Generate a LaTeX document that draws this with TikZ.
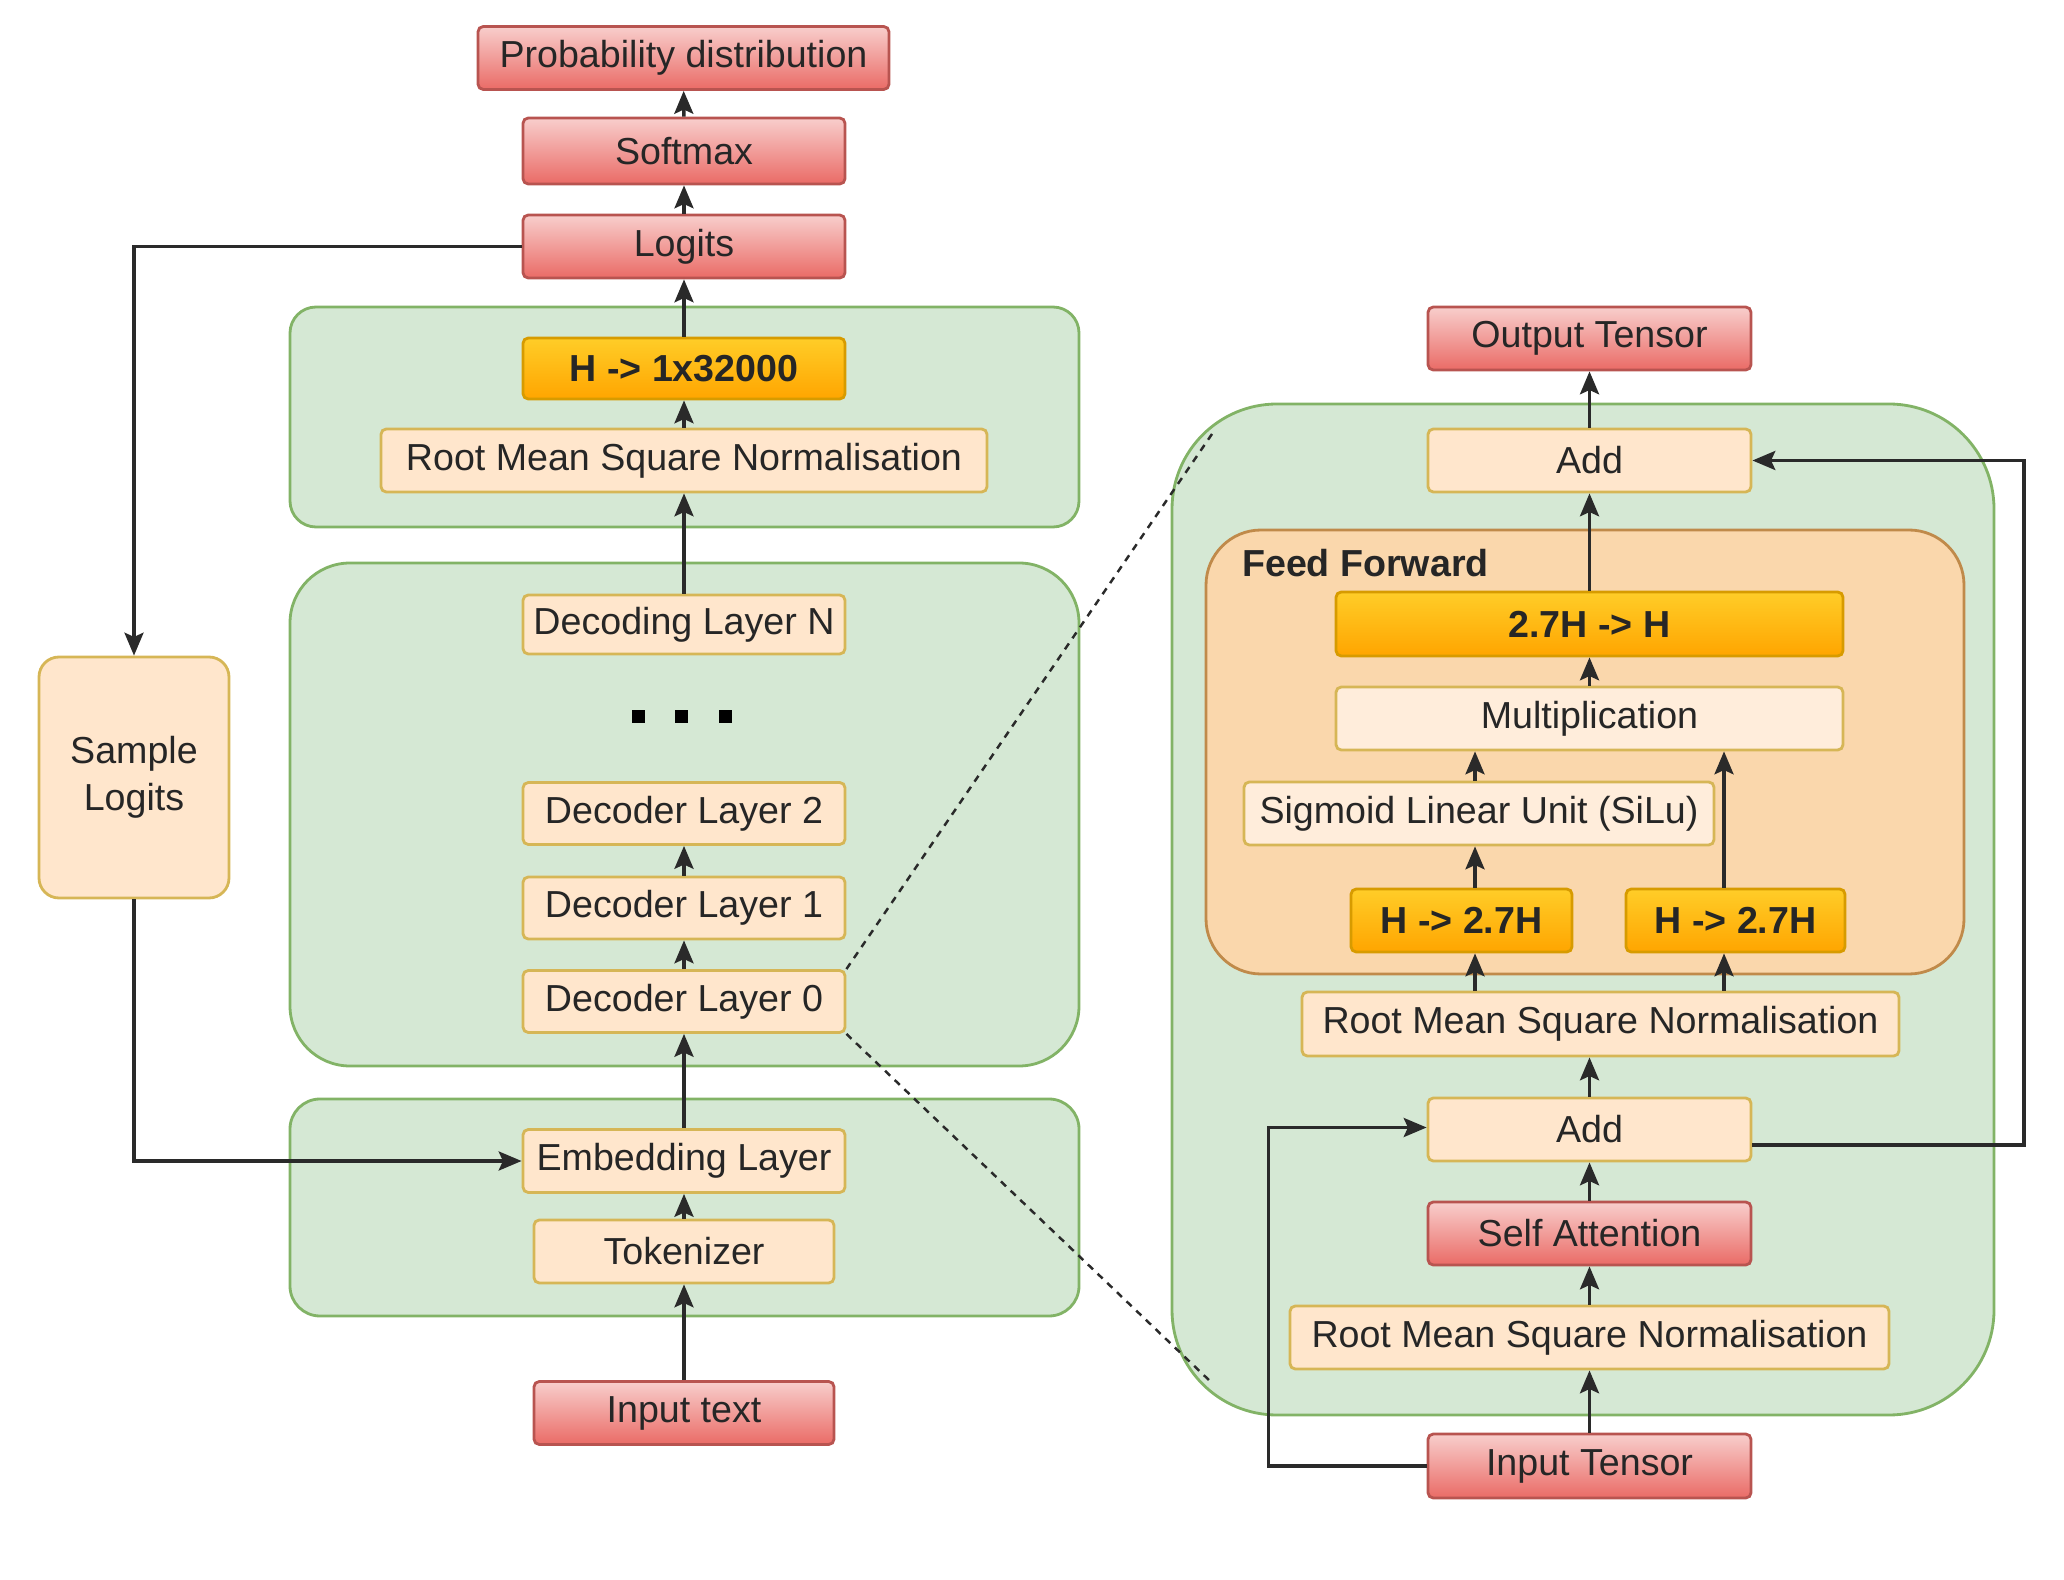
\documentclass[tikz,border=0pt]{standalone}
\usepackage{fontspec}
\setmainfont{Liberation Sans}
\usetikzlibrary{arrows, arrows.meta, positioning}
\definecolor{redtop}{HTML}{F8CECC}
\definecolor{redbot}{HTML}{EA6B66}
\definecolor{redline}{HTML}{B85450}
\definecolor{ortop}{HTML}{FFCD28}
\definecolor{orbot}{HTML}{FFA500}
\definecolor{orline}{HTML}{D79B00}
\definecolor{pale}{HTML}{FFE6CC}
\definecolor{paleline}{HTML}{D6B656}
\definecolor{grfill}{HTML}{D5E8D4}
\definecolor{grline}{HTML}{82B366}
\definecolor{fffill}{HTML}{FAD7AC}
\definecolor{ffline}{HTML}{C08A4A}
\definecolor{txt}{HTML}{262626}
\definecolor{ln}{HTML}{2A2A2A}

\begin{document}
\begin{tikzpicture}
  [font=\fontsize{10.7}{13.4}\selectfont, text=txt, >={Stealth[length=6.5pt, width=5.4pt, inset=1.2pt]}, line width=0.8pt,
   box/.style={rectangle, rounded corners=1.5pt, inner sep=0pt, minimum height=0.63cm},
   redbox/.style={box, draw=redline, top color=redtop, bottom color=redbot, minimum width=3.22cm},
   orbox/.style={box, draw=orline, top color=ortop, bottom color=orbot, font=\fontsize{10.7}{13.4}\selectfont\bfseries},
   palebox/.style={box, draw=paleline, fill=pale, minimum width=3.22cm},
   group/.style={rectangle, draw=grline, fill=grfill, inner sep=0pt},
   arr/.style={->, draw=ln, line width=1pt}]
  \useasboundingbox (0,0) rectangle (20.64,-15.80);

  \node (gtop) at (6.845,-4.17) [group, rounded corners=0.26cm, minimum width=7.89cm, minimum height=2.20cm] {};
  \node (gmid) at (6.845,-8.145) [group, rounded corners=0.6cm, minimum width=7.89cm, minimum height=5.03cm] {};
  \node (gbot) at (6.845,-12.075) [group, rounded corners=0.3cm, minimum width=7.89cm, minimum height=2.17cm] {};
  \node (layer) at (15.83,-9.095) [group, rounded corners=1.05cm, minimum width=8.22cm, minimum height=10.11cm] {};
  \node (ff) at (15.85,-7.52) [rectangle, draw=ffline, fill=fffill, rounded corners=0.55cm, minimum width=7.58cm, minimum height=4.44cm] {};
  \node (fftitle) at (12.29,-5.63) [anchor=west, font=\fontsize{10.7}{13.4}\selectfont\bfseries] {Feed Forward};

  \node (prob) at (6.835,-0.58) [redbox, minimum width=4.11cm] {Probability distribution};
  \node (softmax) at (6.84,-1.51) [redbox, minimum height=0.66cm] {Softmax};
  \node (logits) at (6.84,-2.465) [redbox] {Logits};
  \node (proj) at (6.84,-3.685) [orbox, minimum width=3.22cm, minimum height=0.61cm] {H -> 1x32000};
  \node (normtop) at (6.84,-4.605) [palebox, minimum width=6.06cm] {Root Mean Square Normalisation};
  \node (decN) at (6.84,-6.245) [palebox, minimum height=0.59cm] {Decoding Layer N};
  \foreach \x in {6.38, 6.81, 7.25}
    \fill (\x-0.065,-7.235) rectangle ++(0.13,0.13);
  \foreach \n/\y in {2/-8.135, 1/-9.08, 0/-10.015}
    \node (dec\n) at (6.84,\y) [palebox, minimum height=0.62cm] {Decoder Layer \n};
  \node (embed) at (6.84,-11.61) [palebox] {Embedding Layer};
  \node (tok) at (6.84,-12.515) [palebox, minimum width=3.0cm] {Tokenizer};
  \node (intext) at (6.84,-14.13) [redbox, minimum width=3.0cm] {Input text};
  \node (sample) at (1.34,-7.775) [palebox, rounded corners=0.2cm, minimum width=1.90cm, minimum height=2.41cm, align=center] {Sample\\Logits};

  \node (outT) at (15.895,-3.385) [redbox, minimum width=3.23cm] {Output Tensor};
  \node (addtop) at (15.895,-4.605) [palebox, minimum width=3.23cm] {Add};
  \node (proj2) at (15.895,-6.24) [orbox, minimum width=5.07cm, minimum height=0.64cm] {2.7H -> H};
  \node (mult) at (15.895,-7.185) [palebox, fill=pale!70, minimum width=5.07cm] {Multiplication};
  \node (silu) at (14.79,-8.135) [palebox, fill=pale!70, minimum width=4.70cm] {Sigmoid Linear Unit (SiLu)};
  \node (upL) at (14.615,-9.205) [orbox, minimum width=2.21cm] {H -> 2.7H};
  \node (upR) at (17.355,-9.205) [orbox, minimum width=2.19cm] {H -> 2.7H};
  \node (norm2) at (16.005,-10.24) [palebox, minimum width=5.97cm, minimum height=0.64cm] {Root Mean Square Normalisation};
  \node (addbot) at (15.895,-11.295) [palebox, minimum width=3.23cm] {Add};
  \node (attn) at (15.895,-12.335) [redbox, minimum width=3.23cm] {Self Attention};
  \node (norm1) at (15.895,-13.375) [palebox, minimum width=5.99cm] {Root Mean Square Normalisation};
  \node (inT) at (15.895,-14.66) [redbox, minimum width=3.23cm, minimum height=0.64cm] {Input Tensor};

  \coordinate (cl) at (14.75,0);
  \coordinate (cr) at (17.24,0);
  \coordinate (zoomA) at (12.12,-4.34);
  \coordinate (zoomB) at (12.11,-13.82);

  \draw [arr] (intext) to (tok);
  \draw [arr] (tok) to (embed);
  \draw [arr] (embed) to (dec0);
  \draw [arr] (dec0) to (dec1);
  \draw [arr] (dec1) to (dec2);
  \draw [arr] (decN) to (normtop);
  \draw [arr] (normtop) to (proj);
  \draw [arr] (proj) to (logits);
  \draw [arr] (logits) to (softmax);
  \draw [arr] (softmax) to (prob);
  \draw [arr] (logits.west) -| (sample.north);
  \draw [arr] (sample.south) |- (embed.west);

  \draw [arr] (inT) to (norm1);
  \draw [arr] (norm1) to (attn);
  \draw [arr] (attn) to (addbot);
  \draw [arr] (addbot.north) to (addbot.north |- norm2.south);
  \draw [arr] (norm2.north -| cl) to (upL.south -| cl);
  \draw [arr] (norm2.north -| cr) to (upR.south -| cr);
  \draw [arr] (upL.north -| cl) to (silu.south -| cl);
  \draw [arr] (silu.north -| cl) to (mult.south -| cl);
  \draw [arr] (upR.north -| cr) to (mult.south -| cr);
  \draw [arr] (mult) to (proj2);
  \draw [arr] (proj2) to (addtop);
  \draw [arr] (addtop) to (outT);
  \draw [arr] (inT.west) -- ++(-1.58,0) |- ([yshift=0.02cm]addbot.west);
  \draw [arr] ([yshift=-0.155cm]addbot.east) -- (20.24,-11.45) |- (addtop.east);

  \draw [ln, line width=0.7pt, dash pattern=on 2pt off 1.8pt] (dec0.north east) -- (zoomA);
  \draw [ln, line width=0.7pt, dash pattern=on 2pt off 1.8pt] (dec0.south east) -- (zoomB);
\end{tikzpicture}
\end{document}
